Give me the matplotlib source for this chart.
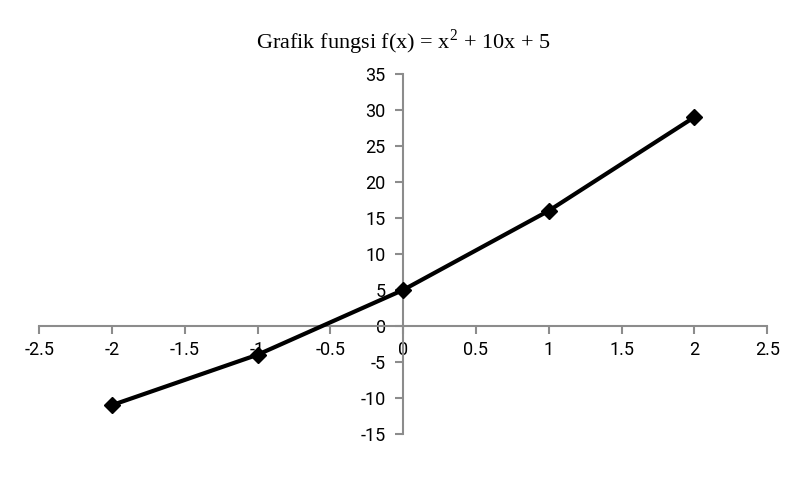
import matplotlib
matplotlib.use("Agg")
import matplotlib.pyplot as plt

x = [-2, -1, 0, 1, 2]
y = [-11, -4, 5, 16, 29]
xticks = [-2.5, -2, -1.5, -1, -0.5, 0, 0.5, 1, 1.5, 2, 2.5]
yticks = [-15, -10, -5, 0, 5, 10, 15, 20, 25, 30, 35]

plt.rcParams['mathtext.fontset'] = 'custom'
plt.rcParams['mathtext.rm'] = 'Liberation Serif'
plt.rcParams['axes.unicode_minus'] = False

fig = plt.figure(figsize=(8, 4.8), dpi=100)
ax = fig.add_axes([0.049, 0.096, 0.91, 0.75])

ax.plot(x, y, color='black', lw=3, marker='D', ms=8, zorder=3)

ax.set_xlim(-2.5, 2.5)
ax.set_ylim(-15, 35)
ax.set_xticks(xticks)
ax.set_xticklabels(['%g' % t for t in xticks])
ax.set_yticks(yticks)

for s in ['top', 'right']:
    ax.spines[s].set_visible(False)
for s in ['left', 'bottom']:
    ax.spines[s].set_position(('data', 0))
    ax.spines[s].set_color('#8c8c8c')
    ax.spines[s].set_linewidth(1.5)

ax.tick_params(axis='both', direction='out', length=5.5, width=1.5, color='#8c8c8c',
               labelsize=13)
ax.tick_params(axis='x', pad=5)
ax.tick_params(axis='y', pad=7)
for lab in ax.get_xticklabels() + ax.get_yticklabels():
    lab.set_family('Roboto')

fig.text(0.504, 0.912, r'Grafik fungsi f(x) = x$^{2}$ + 10x + 5', ha='center', va='center',
         family='Liberation Serif', fontsize=16)

fig.savefig('out.png', dpi=100)
